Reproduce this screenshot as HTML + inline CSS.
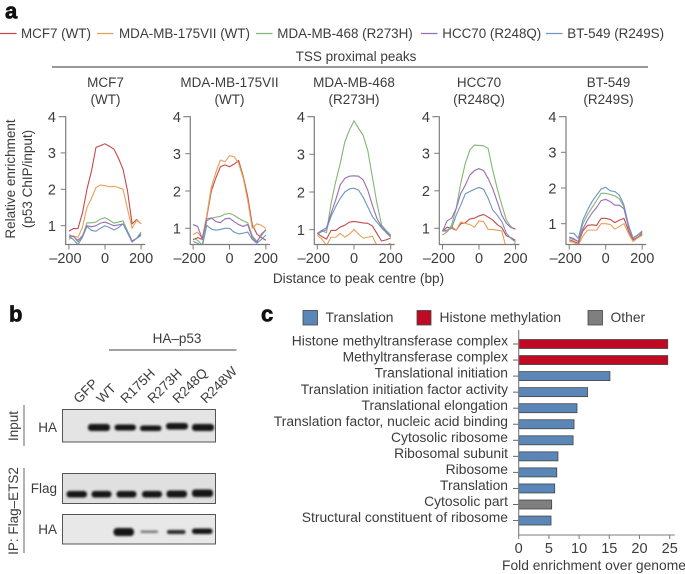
<!DOCTYPE html>
<html lang="en">
<head>
<meta charset="utf-8">
<title>p53 enrichment figure</title>
<style>
html,body{margin:0;padding:0;background:#fff;}
svg{display:block;}
text{font-family:"Liberation Sans",sans-serif;fill:#3c3c3c;font-size:13.5px;}
.tick{font-size:14.5px;}
.legend-text{font-size:13.4px;}
.bar-text{font-size:13.85px;}
.letter{font-size:22px;font-weight:bold;fill:#111;stroke:#111;stroke-width:.7px;}
</style>
</head>
<body>
<svg id="figure" width="685" height="574" viewBox="0 0 685 574" xmlns="http://www.w3.org/2000/svg">
<defs>
<filter id="b1" x="-20%" y="-60%" width="140%" height="220%"><feGaussianBlur stdDeviation="1"/></filter>
<filter id="b2" x="-5%" y="-5%" width="110%" height="110%"><feGaussianBlur stdDeviation="0.25"/></filter>
</defs>
<text class="letter" x="5" y="18.5">a</text>
<g id="legendA"></g>
<text x="356" y="61" text-anchor="middle">TSS proximal peaks</text>
<line x1="52" x2="648" y1="67" y2="67" stroke="#8a8a8a" stroke-width="1.8"/>
<g id="panels"></g>
<text transform="translate(15,179) rotate(-90)" text-anchor="middle">Relative enrichment</text>
<text transform="translate(32,179) rotate(-90)" text-anchor="middle">(p53 ChIP/input)</text>
<text x="358.5" y="283" text-anchor="middle" style="font-size:13.65px">Distance to peak centre (bp)</text>

<text class="letter" x="9" y="321.5">b</text>
<g>
<text x="177" y="343" text-anchor="middle">HA–p53</text>
<line x1="109" x2="236.5" y1="350" y2="350" stroke="#444" stroke-width="1"/>
<text transform="translate(79,404) rotate(-45)">GFP</text>
<text transform="translate(102,404) rotate(-45)">WT</text>
<text transform="translate(126,404) rotate(-45)">R175H</text>
<text transform="translate(153,404) rotate(-45)">R273H</text>
<text transform="translate(178,404) rotate(-45)">R248Q</text>
<text transform="translate(206,404) rotate(-45)">R248W</text>
<text transform="translate(18,426) rotate(-90)" text-anchor="middle">Input</text>
<line x1="24" x2="24" y1="405" y2="446" stroke="#666" stroke-width="1"/>
<text transform="translate(18,511) rotate(-90)" text-anchor="middle">IP: Flag–ETS2</text>
<line x1="24" x2="24" y1="468" y2="553" stroke="#666" stroke-width="1"/>
<text x="57" y="432" text-anchor="end">HA</text>
<text x="57" y="493" text-anchor="end">Flag</text>
<text x="57" y="534" text-anchor="end">HA</text>

<rect x="62.5" y="409.5" width="153" height="32.5" fill="#e4e4e4" stroke="#555" stroke-width="1"/>
<rect x="62.5" y="473.5" width="153" height="30" fill="#e0e0e0" stroke="#555" stroke-width="1"/>
<rect x="62.5" y="514.5" width="153" height="29.5" fill="#e8e8e8" stroke="#555" stroke-width="1"/>
<g fill="#161616" filter="url(#b1)">
<rect x="88" y="424" width="22" height="7" rx="3"/>
<rect x="114.5" y="424.5" width="21.5" height="6" rx="3"/>
<rect x="140" y="425.5" width="21.5" height="5.5" rx="3"/>
<rect x="166" y="423" width="22" height="6.5" rx="3"/>
<rect x="192" y="424" width="22" height="7" rx="3"/>
<rect x="66.5" y="491" width="20.5" height="6.5" rx="3"/>
<rect x="91.5" y="491" width="20" height="6.5" rx="3"/>
<rect x="116.5" y="491" width="20" height="6.5" rx="3"/>
<rect x="142" y="491" width="20" height="6.5" rx="3"/>
<rect x="166.5" y="490.5" width="20.5" height="7" rx="3"/>
<rect x="192" y="489.5" width="21" height="7.5" rx="3"/>
<rect x="113.5" y="528" width="20.5" height="8" rx="3.5"/>
<rect x="140.5" y="530.5" width="17.5" height="2.5" rx="1" fill="#777"/>
<rect x="167" y="530" width="18.5" height="4" rx="2" fill="#2a2a2a"/>
<rect x="192" y="528.5" width="20.5" height="5.5" rx="2.5"/>
</g>
</g>

<text class="letter" x="261" y="321.5">c</text>
<g>
<rect x="303" y="310.5" width="14.5" height="14.5" fill="#5b87b8" stroke="#444" stroke-width=".8"/>
<text class="bar-text" x="325.5" y="322">Translation</text>
<rect x="417" y="310.5" width="14" height="14.5" fill="#c00a24" stroke="#444" stroke-width=".8"/>
<text class="bar-text" x="439.5" y="322">Histone methylation</text>
<rect x="588" y="310.5" width="14.5" height="14.5" fill="#7f7f7f" stroke="#444" stroke-width=".8"/>
<text class="bar-text" x="610.5" y="322">Other</text>
</g>
<g id="barChart"></g>
<text class="bar-text" x="594" y="570" text-anchor="middle">Fold enrichment over genome</text>
</svg>
<script>
// Shared line chart data
const cellLines = ["MCF7 (WT)", "MDA-MB-175VII (WT)", "MDA-MB-468 (R273H)", "HCC70 (R248Q)", "BT-549 (R249S)"];
const distanceBp = [-200,-175,-150,-125,-100,-75,-50,-25,0,25,50,75,100,125,150,175,200];
const yTickValues = [1,2,3,4];
const xTickValues = [-200,0,200];
const xTickLabels = ["–200","0","200"];
const panelTitlesTop = ["MCF7","MDA-MB-175VII","MDA-MB-468","HCC70","BT-549"];
const panelTitlesBottom = ["(WT)","(WT)","(R273H)","(R248Q)","(R249S)"];

// Panel 1: MCF7
const p1Red = [.85,.92,.92,1.35,2.0,2.5,3.15,3.2,3.25,3.18,3.1,2.85,2.55,1.95,1.05,1.17,1.05];
const p1Orange = [.62,.72,.68,.95,1.5,1.75,2.05,2.12,2.1,2.07,2.08,2.05,2.0,1.45,.93,1.15,1.05];
const p1Green = [.7,.72,.55,.7,1.08,1.08,1.1,1.18,1.22,1.15,1.07,1.1,1.13,.85,.58,.65,.83];
const p1Purple = [.75,.7,.6,.72,1.0,.97,1.0,1.07,1.1,1.05,1.0,1.02,1.05,.82,.58,.65,.78];
const p1Blue = [.7,.62,.48,.68,.98,.87,.85,.93,1.0,.95,.88,.95,1.05,.8,.55,.65,.73];
// Panel 2: MDA-MB-175VII
const p2Red = [.69,.75,.7,1.3,2.0,2.35,2.65,2.7,2.65,2.72,2.82,2.4,1.85,1.1,.85,.75,.68];
const p2Orange = [.83,.9,.72,1.35,2.1,2.5,2.83,2.78,2.95,2.92,2.75,2.35,1.75,1.0,1.12,1.08,1.0];
const p2Green = [.72,.68,.55,1.2,1.27,1.3,1.32,1.38,1.4,1.35,1.27,1.2,1.15,.8,.65,.8,.97];
const p2Purple = [1.1,1.05,.72,1.25,1.28,1.18,1.15,1.25,1.27,1.18,1.1,1.05,1.1,.75,.62,.85,.95];
const p2Blue = [.65,.6,.5,1.08,.98,.95,.97,1.0,1.0,.9,.85,.87,.9,.7,.6,.7,.82];
// Panel 3: MDA-MB-468
const p3Red = [.9,.82,.75,.98,.98,1.07,1.12,1.2,1.22,1.2,1.18,1.17,1.1,.9,.7,.73,.78];
const p3Orange = [.85,.75,.58,.8,.8,.9,.8,.88,1.01,.88,.78,.8,.83,.58,.42,.58,.65];
const p3Green = [.9,.98,.92,1.7,2.27,2.76,3.33,3.64,3.89,3.69,3.5,3.1,2.4,1.7,1.13,.98,.86];
const p3Purple = [.9,.98,1.05,1.43,1.79,2.19,2.36,2.42,2.43,2.42,2.32,2.05,1.65,1.3,1.08,.95,.83];
const p3Blue = [.88,.95,1.0,1.35,1.61,1.83,2.0,2.08,2.1,2.05,1.86,1.61,1.35,1.2,1.05,.93,.8];
// Panel 4: HCC70
const p4Red = [.92,1.03,1.0,.95,1.12,1.15,1.25,1.27,1.33,1.37,1.3,1.22,1.1,1.02,.8,.75,.68];
const p4Orange = [.95,.9,1.05,.95,1.17,1.13,1.1,1.03,1.2,1.18,.97,.97,.95,.93,.45,.5,.62];
const p4Green = [.82,.91,1.09,1.53,2.2,2.73,3.09,3.22,3.21,3.2,3.13,2.55,2.06,1.62,1.22,1.04,.97];
const p4Purple = [.92,1.2,1.27,1.53,1.93,2.15,2.42,2.54,2.59,2.54,2.33,2.06,1.71,1.35,1.13,1.02,.98];
const p4Blue = [.92,.95,1.0,1.35,1.62,1.92,1.98,2.04,2.09,2.04,1.8,1.49,1.35,1.18,.87,.73,.64];
// Panel 5: BT-549
const p5Red = [.55,.5,.45,.8,.95,.97,.95,1.15,1.15,1.12,1.03,1.1,1.15,.8,.55,.62,.72];
const p5Orange = [.5,.48,.4,.65,.82,.82,.82,1.0,1.0,.98,.85,.92,1.0,.72,.5,.6,.68];
const p5Green = [.6,.55,.5,1.0,1.25,1.45,1.65,1.85,1.85,1.82,1.78,1.7,1.47,.95,.6,.68,.75];
const p5Purple = [.63,.58,.5,.85,1.1,1.3,1.45,1.65,1.68,1.62,1.52,1.52,1.42,.9,.6,.68,.78];
const p5Blue = [.73,.73,.59,1.1,1.38,1.62,1.8,1.97,2.02,1.92,1.9,1.8,1.52,.96,.59,.68,.8];

// Bar chart data
const goTerms = ["Histone methyltransferase complex","Methyltransferase complex","Translational initiation","Translation initiation factor activity","Translational elongation","Translation factor, nucleic acid binding","Cytosolic ribosome","Ribosomal subunit","Ribosome","Translation","Cytosolic part","Structural constituent of ribosome"];
const foldEnrichment = [24.67,24.67,15.1,11.4,9.65,9.16,9.0,6.5,6.3,5.96,5.46,5.35];
const goGroups = ["histone","histone","translation","translation","translation","translation","translation","translation","translation","translation","other","translation"];
const barTickValues = [0,5,10,15,20,25];

const seriesByPanel = [
  [p1Red,p1Orange,p1Green,p1Purple,p1Blue],
  [p2Red,p2Orange,p2Green,p2Purple,p2Blue],
  [p3Red,p3Orange,p3Green,p3Purple,p3Blue],
  [p4Red,p4Orange,p4Green,p4Purple,p4Blue],
  [p5Red,p5Orange,p5Green,p5Purple,p5Blue]
];

const NS = "http://www.w3.org/2000/svg";
const seriesColors = ["#c44a4c","#e6a055","#82b673","#9a6cb2","#6d94c6"];
const groupColors = {histone:"#c00a24",translation:"#5b87b8",other:"#7f7f7f"};

function make(tag, attrs, parent, txt){
  const el = document.createElementNS(NS, tag);
  for (const k in attrs) el.setAttribute(k, attrs[k]);
  if (txt !== undefined) el.textContent = txt;
  parent.appendChild(el);
  return el;
}

// Legend for panel a
const legendA = document.getElementById("legendA");
const legendLineX = [0,97,256,421,546];
const legendTextX = [21,119,277.3,442.3,567.3];
cellLines.forEach(function(name,i){
  const ln = make("line",{x1:legendLineX[i],x2:legendLineX[i]+16.5,y1:33.5,y2:33.5,stroke:seriesColors[i],"stroke-width":1.2},legendA);
  
  
  const tx = make("text",{"class":"legend-text",x:legendTextX[i],y:38},legendA,name);
  
  
});

// Line panels: axis frame per panel
const panelFrames = [
  {axisX:65.7,x0:105,pxPerBp:.1805,y1:225.7,pxPerUnit:36.4,titleX:105.5,tickLabelX:56},
  {axisX:190.3,x0:229.5,pxPerBp:.182,y1:228.3,pxPerUnit:37.3,titleX:229.5,tickLabelX:181},
  {axisX:314.3,x0:354,pxPerBp:.1835,y1:229.7,pxPerUnit:37.7,titleX:354,tickLabelX:305},
  {axisX:439.3,x0:479,pxPerBp:.1825,y1:228.3,pxPerUnit:37.5,titleX:479,tickLabelX:430},
  {axisX:566,x0:605.7,pxPerBp:.1825,y1:223.7,pxPerUnit:35.7,titleX:608.5,tickLabelX:556.5}
];
const axisBottom = 244.5, axisTop = 116.7;
const panelsG = document.getElementById("panels");

seriesByPanel.forEach(function(series,p){
  const f = panelFrames[p];
  const xScale = function(bp){ return f.x0 + bp*f.pxPerBp; };
  const yScale = function(v){ return f.y1 - (v-1)*f.pxPerUnit; };
  const g = make("g",{},panelsG);
  
  

  const t1 = make("text",{x:f.titleX,y:87,"text-anchor":"middle"},g,panelTitlesTop[p]);
  
  
  const t2 = make("text",{x:f.titleX,y:104,"text-anchor":"middle"},g,panelTitlesBottom[p]);
  
  

  const clipId = "clip"+p;
  const cp = make("clipPath",{id:clipId},g);
  make("rect",{x:f.axisX,y:axisTop,width:85,height:axisBottom-axisTop},cp);

  const lines = make("g",{"clip-path":"url(#"+clipId+")"},g);
  
  
  series.forEach(function(vals,s){
    const d = vals.map(function(v,i){ return (i?"L":"M")+xScale(distanceBp[i]).toFixed(2)+" "+yScale(v).toFixed(2); }).join(" ");
    const path = make("path",{d:d,fill:"none",stroke:seriesColors[s],"stroke-width":1.1,"stroke-linejoin":"round",filter:"url(#b2)"},lines);
    
    
  });

  const yAxis = make("path",{d:"M"+(f.axisX-7)+" "+axisTop+"H"+f.axisX+"V"+axisBottom+"H"+(xScale(200)+4),fill:"none",stroke:"#7c7c7c","stroke-width":1.2},g);
  
  

  yTickValues.forEach(function(v){
    const y = yScale(v);
    if (v < 4) {
      const tk = make("line",{x1:f.axisX-5,x2:f.axisX,y1:y,y2:y,stroke:"#7c7c7c","stroke-width":1},g);
      
      
    }
    const lab = make("text",{"class":"tick",x:f.tickLabelX,y:(v===4?axisTop:y)+5.3,"text-anchor":"end"},g,String(v));
    
    
  });
  xTickValues.forEach(function(v,i){
    const x = xScale(v);
    const tk = make("line",{x1:x,x2:x,y1:axisBottom,y2:axisBottom+5,stroke:"#7c7c7c","stroke-width":1},g);
    
    
    const lab = make("text",{"class":"tick",x:x-(v<0?3.5:0),y:263,"text-anchor":"middle"},g,xTickLabels[i]);
    
    
  });
});

// Bar chart
const barG = document.getElementById("barChart");
const barX0 = 518.7, barPxPerUnit = 6.04, barY0 = 344, barStep = 16.05, barH = 9;
const bx = function(v){ return barX0 + v*barPxPerUnit; };
const by = function(i){ return barY0 + i*barStep; };

goTerms.forEach(function(term,i){
  const c = by(i);
  const lab = make("text",{"class":"bar-text",x:508,y:c+1.6,"text-anchor":"end"},barG,term);
  
  
  const tk = make("line",{x1:513,x2:barX0,y1:c,y2:c,stroke:"#666","stroke-width":1},barG);
  
  
  const r = make("rect",{x:barX0,y:c-barH/2,width:bx(foldEnrichment[i])-barX0,height:barH,fill:groupColors[goGroups[i]],stroke:"#444","stroke-width":.8},barG);
  
  
});
const barAxis = make("path",{d:"M"+barX0+" 330V535H674.7",fill:"none",stroke:"#7c7c7c","stroke-width":1.1},barG);


barTickValues.forEach(function(v){
  const x = bx(v);
  const tk = make("line",{x1:x,x2:x,y1:535,y2:539,stroke:"#7c7c7c","stroke-width":1},barG);
  
  
  const lab = make("text",{"class":"tick",x:x,y:553,"text-anchor":"middle"},barG,String(v));
  
  
});
</script>
</body>
</html>
